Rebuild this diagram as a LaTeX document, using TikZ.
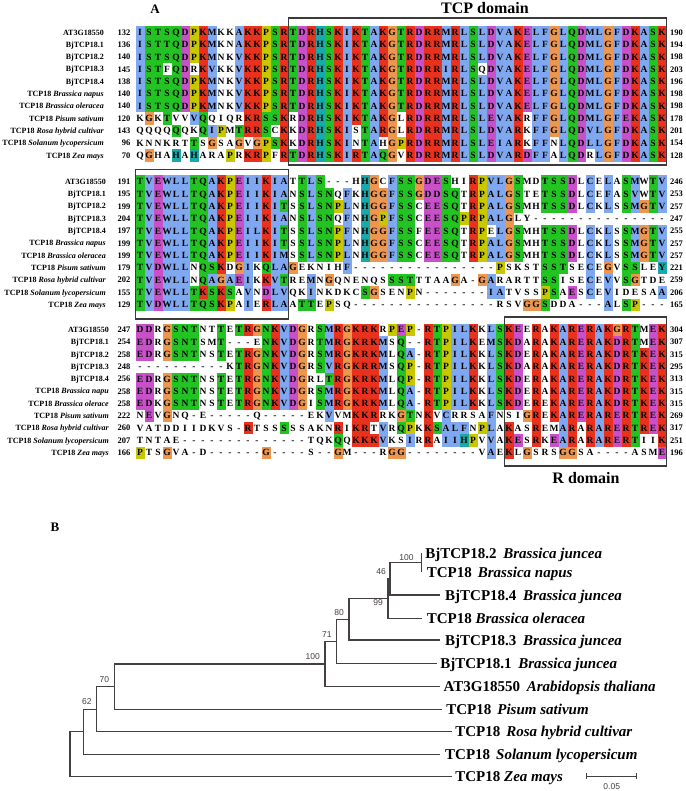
\documentclass[tikz,border=0pt]{standalone}
\usepackage{fontspec}
\setmainfont{Liberation Serif}
\newfontfamily\sansf{Liberation Sans}
\definecolor{cB}{HTML}{80A8F0}
\definecolor{cR}{HTML}{E8321E}
\definecolor{cG}{HTML}{22C322}
\definecolor{cM}{HTML}{C850C8}
\definecolor{cO}{HTML}{EC9650}
\definecolor{cY}{HTML}{C8C800}
\definecolor{cC}{HTML}{18AAAA}
\definecolor{boxc}{HTML}{3A3A3A}
\definecolor{treec}{HTML}{454040}
\tikzset{
  res/.style={font=\fontsize{9.5}{10}\selectfont\bfseries, inner sep=0pt, text height=6.4pt, text depth=0pt},
  lab/.style={font=\fontsize{8}{9}\selectfont\bfseries, inner sep=0pt, anchor=east, text height=5.5pt, text depth=0pt},
  num/.style={font=\fontsize{8.5}{9}\selectfont\bfseries, inner sep=0pt, text height=5.8pt, text depth=0pt},
  domlab/.style={font=\fontsize{16}{18}\selectfont\bfseries, inner sep=0pt},
  panel/.style={font=\fontsize{13}{15}\selectfont\bfseries, inner sep=0pt},
  dombox/.style={draw=boxc, line width=1.3pt},
  branch/.style={draw=treec, line width=1.2pt},
  tip/.style={font=\fontsize{15}{17}\selectfont\bfseries, inner sep=0pt, anchor=west, text height=10pt, text depth=0pt},
  boot/.style={font=\sansf\fontsize{8.5}{10}\selectfont, text=treec, inner sep=0pt, anchor=south east},
}
\newcommand\AlnCell[5]{\fill[#3] (#1pt,-#2pt) rectangle ++(9.25pt,-12.55pt);
  \node[res] (#5) at (#1pt+4.5pt,-#2pt-6.15pt) {#4};}
\newcommand\AlnTxt[4]{\node[res] (#4) at (#1pt+4.5pt,-#2pt-6.15pt) {#3};}

\ExplSyntaxOn
\int_new:N \l_aln_nrow_int
\int_new:N \l_aln_r_int
\int_new:N \l_aln_ncol_int
\tl_new:N \l_aln_col_tl
\tl_new:N \l_aln_color_tl
\tl_new:N \l_aln_x_tl
\tl_new:N \l_aln_y_tl
\tl_new:N \l_aln_first_tl
\seq_new:N \l_aln_rows_seq
\int_new:N \l_aln_hyd_int
\int_new:N \l_aln_ed_int
\int_new:N \l_aln_kr_int
\int_new:N \l_aln_krq_int
\int_new:N \l_aln_n_int
\int_new:N \l_aln_d_int
\int_new:N \l_aln_qe_int
\int_new:N \l_aln_ts_int
\int_new:N \l_aln_s_int
\int_new:N \l_aln_t_int
\int_new:N \l_aln_k_int
\int_new:N \l_aln_rr_int
\int_new:N \l_aln_q_int
\int_new:N \l_aln_aro_int
\cs_new_protected:Npn \aln_count:nN #1 #2
  {
    \int_zero:N #2
    \tl_map_inline:Nn \l_aln_col_tl
      { \tl_if_in:nnT {#1} {##1} { \int_incr:N #2 } }
  }
\cs_new:Npn \aln_gt:Nn #1 #2
  { \int_compare_p:n { #1 * 100 > #2 * \l_aln_nrow_int } }
\cs_new_protected:Npn \aln_if:nn #1 #2
  { \bool_if:nT {#1} { \tl_set:Nn \l_aln_color_tl {#2} } }
\cs_new_protected:Npn \aln_blue:
  { \aln_if:nn { \aln_gt:Nn \l_aln_hyd_int {60} } {cB} }
\cs_new_protected:Npn \aln_red:
  { \aln_if:nn { \aln_gt:Nn \l_aln_kr_int {60} || \aln_gt:Nn \l_aln_k_int {80} || \aln_gt:Nn \l_aln_rr_int {80} || \aln_gt:Nn \l_aln_q_int {80} } {cR} }
\cs_new_protected:Npn \aln_st:
  { \aln_if:nn { \aln_gt:Nn \l_aln_hyd_int {60} || \aln_gt:Nn \l_aln_ts_int {50} || \aln_gt:Nn \l_aln_s_int {85} || \aln_gt:Nn \l_aln_t_int {85} } {cG} }
\cs_new_protected:Npn \aln_hy:
  { \aln_if:nn { \aln_gt:Nn \l_aln_hyd_int {60} || \aln_gt:Nn \l_aln_aro_int {85} } {cC} }
\cs_new_protected:Npn \aln_decide:n #1
  {
    \tl_clear:N \l_aln_color_tl
    \str_case:nn {#1}
      {
        {G} { \tl_set:Nn \l_aln_color_tl {cO} }
        {P} { \tl_set:Nn \l_aln_color_tl {cY} }
        {A} { \aln_blue: }
        {I} { \aln_blue: }
        {L} { \aln_blue: }
        {M} { \aln_blue: }
        {F} { \aln_blue: }
        {W} { \aln_blue: }
        {V} { \aln_blue: }
        {C} { \aln_blue: }
        {K} { \aln_red: }
        {R} { \aln_red: }
        {S} { \aln_st: }
        {T} { \aln_st: }
        {H} { \aln_hy: }
        {Y} { \aln_hy: }
        {E} { \aln_if:nn { \aln_gt:Nn \l_aln_kr_int {60} || \aln_gt:Nn \l_aln_qe_int {50} || \aln_gt:Nn \l_aln_ed_int {50} } {cM} }
        {D} { \aln_if:nn { \aln_gt:Nn \l_aln_kr_int {60} || \aln_gt:Nn \l_aln_krq_int {85} || \aln_gt:Nn \l_aln_ed_int {50} } {cM} }
        {N} { \aln_if:nn { \aln_gt:Nn \l_aln_n_int {50} || \aln_gt:Nn \l_aln_d_int {85} } {cG} }
        {Q} { \aln_if:nn { \aln_gt:Nn \l_aln_kr_int {60} || \aln_gt:Nn \l_aln_qe_int {50} } {cG} }
      }
  }
\cs_new_protected:Npn \aln_block:nnn #1 #2 #3
  {
    \seq_set_from_clist:Nn \l_aln_rows_seq {#3}
    \int_set:Nn \l_aln_nrow_int { \seq_count:N \l_aln_rows_seq }
    \tl_set:Nx \l_aln_first_tl { \seq_item:Nn \l_aln_rows_seq {1} }
    \int_set:Nn \l_aln_ncol_int { \tl_count:N \l_aln_first_tl }
    \int_step_inline:nn { \l_aln_ncol_int }
      {
        \tl_clear:N \l_aln_col_tl
        \seq_map_inline:Nn \l_aln_rows_seq
          { \tl_put_right:Nx \l_aln_col_tl { \tl_item:nn {####1} {##1} } }
        \aln_count:nN { WLVIMAFCHP } \l_aln_hyd_int
        \aln_count:nN { ED } \l_aln_ed_int
        \aln_count:nN { KR } \l_aln_kr_int
        \aln_count:nN { KRQ } \l_aln_krq_int
        \aln_count:nN { N } \l_aln_n_int
        \aln_count:nN { D } \l_aln_d_int
        \aln_count:nN { QE } \l_aln_qe_int
        \aln_count:nN { TS } \l_aln_ts_int
        \aln_count:nN { S } \l_aln_s_int
        \aln_count:nN { T } \l_aln_t_int
        \aln_count:nN { K } \l_aln_k_int
        \aln_count:nN { R } \l_aln_rr_int
        \aln_count:nN { Q } \l_aln_q_int
        \aln_count:nN { WYACPQFHILMV } \l_aln_aro_int
        \tl_set:Nx \l_aln_x_tl { \fp_eval:n { 135.5 + (##1 - 1) * 9 } }
        \int_zero:N \l_aln_r_int
        \tl_map_inline:Nn \l_aln_col_tl
          {
            \int_incr:N \l_aln_r_int
            \tl_set:Nx \l_aln_y_tl { \fp_eval:n { #2 + (\l_aln_r_int - 1) * 12.3 } }
            \aln_decide:n {####1}
            \tl_if_empty:NTF \l_aln_color_tl
              { \use:x { \exp_not:N \AlnTxt {\l_aln_x_tl} {\l_aln_y_tl} {####1} {c#1-\int_use:N\l_aln_r_int-##1} } }
              { \use:x { \exp_not:N \AlnCell {\l_aln_x_tl} {\l_aln_y_tl} {\l_aln_color_tl} {####1} {c#1-\int_use:N\l_aln_r_int-##1} } }
          }
      }
  }
\cs_new_eq:NN \AlnBlock \aln_block:nnn
\ExplSyntaxOff

\def\labsAB{AT3G18550,BjTCP18.1,BjTCP18.2,BjTCP18.3,BjTCP18.4,TCP18 \textit{Brassica napus},TCP18 \textit{Brassica oleracea},TCP18 \textit{Pisum sativum},TCP18 \textit{Rosa hybrid cultivar},TCP18 \textit{Solanum lycopersicum},TCP18 \textit{Zea mays}}
\def\labsC{AT3G18550,BjTCP18.1,BjTCP18.2,BjTCP18.3,BjTCP18.4,TCP18 \textit{Brassica napu},TCP18 \textit{Brassica olerace},TCP18 \textit{Pisum sativum},TCP18 \textit{Rosa hybrid cultivar},TCP18 \textit{Solanum lycopersicum},TCP18 \textit{Zea mays}}

\begin{document}
\begin{tikzpicture}[x=1pt,y=1pt]
\fill[white] (0,0) rectangle (685,-791);
\useasboundingbox (0,0) rectangle (685,-791);

% ---------- panel A ----------
\node[panel] (pA) at (155,-9) {A};
\node[domlab] (tcpl) at (485,-8) {TCP domain};

\AlnBlock{1}{26.15}{
ISTSQDPKMKKAKKPSRTDRHSKIKTAKGTRDRRMRLSLDVAKELFGLQDMLGFDKASK,
ISTTQDPKMKNAKKPSRTDRHSKIKTAKGTRDRRMRLSLDVAKELFGLQDMLGFDKASK,
ISTSQDPKMNKVKKPSRTDRHSKIKTAKGTRDRRMRLSLDVAKELFGLQDMLGFDKASK,
ISTFQDRKVKKVKKPSRTDRHSKIKTAKGTRDRRIRLSQDVAKELFGLQDMLGFDKASK,
ISTSQDPKMNKVKKPSRTDRHSKIKTAKGTRDRRMRLSLDVAKELFGLQDMLGFDKASK,
ISTSQDPKMNKVKKPSRTDRHSKIKTAKGTRDRRMRLSLDVAKELFGLQDMLGFDKASK,
ISTSQDPKMNKVKKPSRTDRHSKIKTAKGTRDRRMRLSLDVAKELFGLQDMLGFDKASK,
KGKTVVVQQIQRKRSSKRDRHSKIKTAKGLRDRRMRLSLEVAKRFFGLQDMLGFEKASK,
QQQQQQKQIPMTRRSCKKDRHSKISTARGLRDRRMRLSLDVARKFFGLQDVLGFDKASK,
KNNKRTTSGSAGVGPSKKDRHSKINTAHGPRDRRMRLSLEIARKFFNLQDLLGFDKASK,
QGHAHAHARAPRKRPFRTDRHSKIRTAQGVRDRRMRLSLDVARDFFALQDRLGFDKASK}

\AlnBlock{2}{175.5}{
TVEWLLTQAKPEIIKIATTLS---HHGCFSSGDESHIRPVLGSMDTSSDLCELASMWTV,
TVEWLLTQAKPEIIKIANSLSNQFKHGGFSSGDDSQTRPALGSTETSSDLCEFASVWTV,
TVEWLLTQAKPEIIKITSSLSNPLNHGGFSSCEESQTRPALGSMHTSSDLCKLSSMGTV,
TVEWLLTQAKPEIIKIANSLSNQFNHGPFSSCEESQPRPALGLY---------------,
TVEWLLTQAKPEILKITSSLSNPFNHGGFSSFEESQTRPELGSMHTSSDLCKLSSMGTV,
TVEWLLTQAKPEIIKITSSLSNPLNHGGFSSCEESQTRPALGSMHTSSDLCKLSSMGTV,
TVEWLLTQAKPEIIKIMSSLSNPLNHGGFSSCEESQTRPALGSMHTSSDLCKLSSMGTV,
TVDWLLNQSKDGIKQLAGEKNIHF----------------PSKSTSSTSECEGVSSLEY,
TVEWLLNQAGAEIKKVTREMNGQNENQSSSTTTAAGA-GARARTTSSISECEVVSGTDE,
TVEWLLTKSKSAVNDLVQKINKDKCSGSENPN-------IATVSSPSAESCEVIDESAA,
TVDWLLTQSKPAIERLAATTEPSQ----------------RSVGGSDDA---ALSP---}

\AlnBlock{3}{323.5}{
DDRGSNTNTTETRGNKVDGRSMRGKRKRPEP-RTPILKKLSKEERAKARERAKGRTMEK,
EDRGSNTSMT---ENKVDGRTMRGKRKMSQ--RTPILKEMSKDARAKARERAKDRTMEK,
EDRGSNTNSTETRGNKVDGRSMRGKRKMLQA-RTPILKKLSKDERAKARERAKDRTKEK,
----------KTRGNKVDGRSVRGKRRMSQP-RTPILKKLSKDARAKARERAKDRTKEK,
EDRGSNTNSTETRGNKVDGRLTRGKRKMLQP-RTPILKKLSKDERAKARERAKDRTKEK,
EDRGSNTNSTETRGNKVDGRSMRGKRKMLQA-RTPILKKLSKDERAKARERAKDRTKEK,
EDKGSNTNSTETRGNKVDGISMRGKRKMLQA-RTPILKKLSKDEREKARERAKDRTKEK,
NEVGNQ-E-----Q-----EKVVMKKRRKGTNKVCRRSAFNSIGREKARERARERTREK,
VATDDIIDKVS-RTSSSSSAKNRIKRTVRQPKKSALFNPLAKASREMARARARERTREK,
TNTAE--------------TQKQQKKKVKSIRRAIIHPVVAKESRKEARARARERTIIK,
PTSGVA-D------G----S--GM---RGG--------VAEKLGSRSGGSA----ASME}

% labels and numbers
\foreach \l [count=\i] in \labsAB {
  \node[lab] (la\i) at (104, {-(26.15+(\i-0.5)*12.3)}) {\l};
  \node[lab] (lb\i) at (106, {-(175.5+(\i-0.5)*12.3)}) {\l};
}
\foreach \l [count=\i] in \labsC {
  \node[lab] (lc\i) at (109, {-(323.5+(\i-0.5)*12.3)}) {\l};
}
\foreach \n [count=\i] in {132,136,140,145,138,140,140,120,143,96,70}
  \node[num, anchor=east] (nsa\i) at (130.5, {-(26.15+(\i-0.5)*12.3)}) {\n};
\foreach \n [count=\i] in {190,194,198,203,196,198,198,178,201,154,128}
  \node[num, anchor=west] (nea\i) at (670, {-(26.15+(\i-0.5)*12.3)}) {\n};
\foreach \n [count=\i] in {191,195,199,204,197,199,199,179,202,155,129}
  \node[num, anchor=east] (nsb\i) at (130.5, {-(175.5+(\i-0.5)*12.3)}) {\n};
\foreach \n [count=\i] in {246,253,257,247,255,257,257,221,259,206,165}
  \node[num, anchor=west] (neb\i) at (670, {-(175.5+(\i-0.5)*12.3)}) {\n};
\foreach \n [count=\i] in {247,254,258,248,256,258,258,222,260,207,166}
  \node[num, anchor=east] (nsc\i) at (130.5, {-(323.5+(\i-0.5)*12.3)}) {\n};
\foreach \n [count=\i] in {304,307,315,295,313,315,315,269,317,251,196}
  \node[num, anchor=west] (nec\i) at (670, {-(323.5+(\i-0.5)*12.3)}) {\n};

% domain boxes
\draw[dombox] (288.5,-18) rectangle (666.5,-165);
\draw[dombox] (135.5,-169.5) rectangle (288.5,-319);
\draw[dombox] (504.5,-317) rectangle (666.5,-466);
\node[domlab] (rdl) at (586,-478) {R domain};

% ---------- panel B ----------
\node[panel] (pB) at (55,-527) {B};
\coordinate (R)  at (70,-754.2);
\coordinate (N1) at (83.3,-731.7);
\coordinate (N2) at (96.7,-709.2);
\coordinate (N3) at (114.3,-686.6);
\coordinate (N4) at (325,-664.0);
\coordinate (N5) at (336.7,-641.3);
\coordinate (N6) at (349,-619.3);
\coordinate (N7) at (388,-598.6);
\coordinate (N8) at (390,-578.9);
\coordinate (N9) at (421.7,-562.8);
\coordinate (t1)  at (421.7,-553.3);
\coordinate (t2)  at (421.7,-572.3);
\coordinate (t3)  at (440,-595);
\coordinate (t4)  at (421.7,-618.3);
\coordinate (t5)  at (440,-640);
\coordinate (t6)  at (436.7,-663.3);
\coordinate (t7)  at (440,-686.7);
\coordinate (t8)  at (441.7,-709.3);
\coordinate (t9)  at (451.7,-731.7);
\coordinate (t10) at (440,-754.3);
\coordinate (t11) at (451.7,-776.7);
\draw[branch] (R) |- (N1); \draw[branch] (R) |- (t11);
\draw[branch] (N1) |- (N2); \draw[branch] (N1) |- (t10);
\draw[branch] (N2) |- (N3); \draw[branch] (N2) |- (t9);
\draw[branch] (N3) |- (N4); \draw[branch] (N3) |- (t8);
\draw[branch] (N4) |- (N5); \draw[branch] (N4) |- (t7);
\draw[branch] (N5) |- (N6); \draw[branch] (N5) |- (t6);
\draw[branch] (N6) |- (N7); \draw[branch] (N6) |- (t5);
\draw[branch] (N7) |- (N8); \draw[branch] (N7) |- (t4);
\draw[branch] (N8) |- (N9); \draw[branch] (N8) |- (t3);
\draw[branch] (N9) |- (t1); \draw[branch] (N9) |- (t2);

\node[tip] (L1) at ([xshift=3.5pt]t1) {BjTCP18.2\hspace{0.45em}\textit{Brassica juncea}};
\node[tip] (L2) at ([xshift=5pt]t2) {TCP18\hspace{0.4em}\textit{Brassica napus}};
\node[tip] (L3) at ([xshift=5pt]t3) {BjTCP18.4\hspace{0.45em}\textit{Brassica juncea}};
\node[tip] (L4) at ([xshift=5pt]t4) {TCP18 \textit{Brassica oleracea}};
\node[tip] (L5) at ([xshift=5pt]t5) {BjTCP18.3\hspace{0.45em}\textit{Brassica juncea}};
\node[tip] (L6) at ([xshift=3.5pt]t6) {BjTCP18.1\hspace{0.45em}\textit{Brassica juncea}};
\node[tip] (L7) at ([xshift=3.5pt]t7) {AT3G18550\hspace{0.45em}\textit{Arabidopsis thaliana}};
\node[tip] (L8) at ([xshift=4.5pt]t8) {TCP18\hspace{0.4em}\textit{Pisum sativum}};
\node[tip] (L9) at ([xshift=3.5pt]t9) {TCP18\hspace{0.4em}\textit{Rosa hybrid cultivar}};
\node[tip] (L10) at ([xshift=5pt]t10) {TCP18\hspace{0.4em}\textit{Solanum lycopersicum}};
\node[tip] (L11) at ([xshift=3.5pt]t11) {TCP18 \textit{Zea mays}};

\node[boot] (b9) at ([xshift=-8pt,yshift=2pt]N9) {100};
\node[boot] (b8) at ([xshift=-4pt,yshift=4pt]N8) {46};
\node[boot] (b7) at ([xshift=-5pt,yshift=-7pt]N7) {99};
\node[boot] (b6) at ([xshift=-5pt,yshift=4pt]N6) {80};
\node[boot] (b5) at ([xshift=-5pt,yshift=4pt]N5) {71};
\node[boot] (b4) at ([xshift=-5pt,yshift=4pt]N4) {100};
\node[boot] (b3) at ([xshift=-5pt,yshift=4pt]N3) {70};
\node[boot] (b2) at ([xshift=-5pt,yshift=4pt]N2) {62};

\coordinate (sb1) at (586.7,-776);
\coordinate (sb2) at (636.7,-776);
\draw[branch, line width=1pt] (sb1) -- (sb2);
\draw[branch, line width=1pt] ([yshift=2.8pt]sb1) -- ([yshift=-2.8pt]sb1);
\draw[branch, line width=1pt] ([yshift=2.8pt]sb2) -- ([yshift=-2.8pt]sb2);
\node[font=\sansf\fontsize{8.5}{10}\selectfont, text=treec, inner sep=0pt] (sbl) at (611.7,-786.5) {0.05};
\end{tikzpicture}
\end{document}
